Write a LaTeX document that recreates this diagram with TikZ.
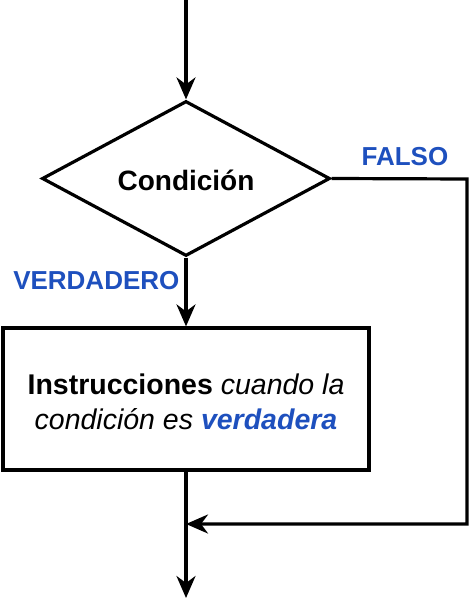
\documentclass[tikz,border=0pt]{standalone}
\usepackage{fontspec}
\setmainfont{Liberation Sans}
\usetikzlibrary{arrows.meta,shapes.geometric}
\definecolor{lblue}{HTML}{1E50BE}
\begin{document}
\begin{tikzpicture}[x=1pt,y=-1pt,
  line width=3.2pt,
  arr/.style={-{Stealth[length=22pt,width=19pt,inset=7pt]}},
  cond/.style={draw,diamond,minimum width=288pt,minimum height=155pt,inner sep=0pt,aspect=1.86},
  instr/.style={draw,rectangle,minimum width=366pt,minimum height=142pt,align=center,inner sep=0pt},
  lbl/.style={text=lblue,font=\fontsize{26}{30}\selectfont\bfseries,inner sep=0pt}]
\useasboundingbox (0,0) rectangle (474,601);
\coordinate (start) at (186,0);
\node[cond] (c) at (186,178.5) {};
\node[font=\fontsize{28}{33}\selectfont\bfseries] (ct) at (186,180) {Condición};
\node[instr] (b) at (186,399) {};
\node[font=\fontsize{28.5}{35}\selectfont,align=center] (bt) at (186,402)
  {\textbf{Instrucciones} \textit{cuando la}\\ \textit{condición es \textcolor{lblue}{\bfseries verdadera}}};
\coordinate (end) at (186,598);
\coordinate (rt) at (467,179);
\coordinate (rb) at (467,524);
\coordinate (m) at (186,524);
\draw[arr] (start) -- (c.north);
\draw[arr] (c.south) -- (b.north);
\draw[arr] (b.south) -- (end);
\draw[arr,line join=miter] (c.east) -- (rt) -- (rb) -- (m);
\node[lbl,anchor=west] (f) at (360,157) {FALSO};
\node[lbl,anchor=east] (v) at (181,281) {VERDADERO};
\end{tikzpicture}
\end{document}
